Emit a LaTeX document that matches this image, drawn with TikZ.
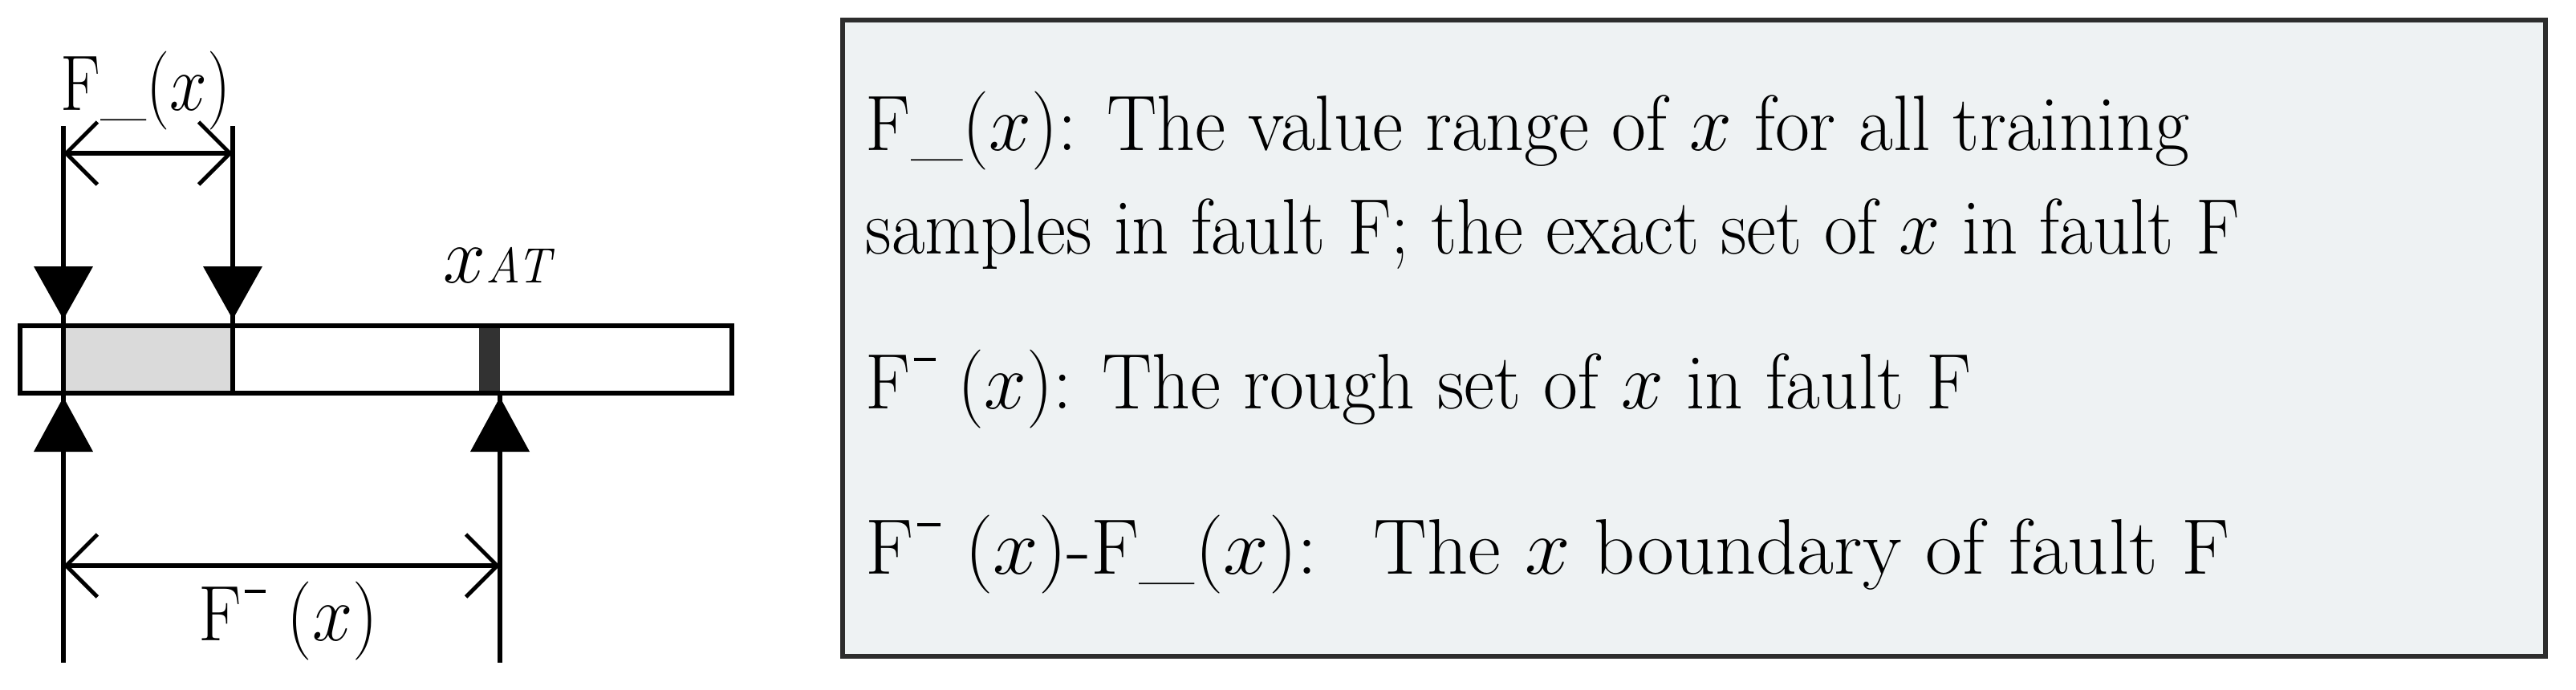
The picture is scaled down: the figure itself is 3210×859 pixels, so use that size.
\documentclass[tikz,border=0pt]{standalone}
\usepackage{fontspec}
\usepackage{graphicx}
\usetikzlibrary{arrows.meta}
\definecolor{boxfill}{RGB}{238,242,243}
\definecolor{shadefill}{RGB}{218,218,218}
\definecolor{darkbar}{RGB}{50,50,50}
\definecolor{boxline}{RGB}{45,45,45}
\newcommand\fitw[2]{\resizebox{#1}{\height}{#2}}
\newcommand\Fup{F\kern0.04em\raisebox{0.6em}{\rule{0.29em}{0.045em}}}
\begin{document}
\begin{tikzpicture}[x=0.25pt,y=-0.25pt,
  lbl/.style={inner sep=0pt, anchor=base west, font=\fontsize{24.5}{29}\selectfont},
  vline/.style={line width=1.7pt, line cap=butt},
  barb/.style={Straight Barb[length=9.75pt,width=19.5pt,line width=1.2pt]},
  dimline/.style={line width=1.6pt, {Straight Barb[length=9.75pt,width=19.5pt,line width=1.2pt]}-{Straight Barb[length=9.75pt,width=19.5pt,line width=1.2pt]}},
  tri/.style={fill=black}]
\useasboundingbox (0,0) rectangle (3210,859);
\fill[white] (0,0) rectangle (3210,859);

% legend box
\draw[line width=1.3pt, draw=boxline, fill=boxfill] (1050,25) rectangle (3172,818);

% bar
\fill[white] (25,406) rectangle (912,490);
\fill[shadefill] (79,406) rectangle (290,490);
\fill[darkbar] (597,406) rectangle (623,490);
\draw[line width=1.6pt] (25,406) rectangle (912,490);

% coordinates
\coordinate (aTop) at (79,157);
\coordinate (aBot) at (79,826);
\coordinate (bTop) at (290,157);
\coordinate (bBar) at (290,490);
\coordinate (cBar) at (623,490);
\coordinate (cBot) at (623,826);
\coordinate (d1a) at (79,191);
\coordinate (d1b) at (290,191);
\coordinate (d2a) at (79,705);
\coordinate (d2b) at (623,705);

% vertical lines
\draw[vline] (aTop) -- (aBot);
\draw[vline] (bTop) -- (bBar);
\draw[vline] (cBar) -- (cBot);

% triangles
\fill[tri] (42,332) -- (116,332) -- (79,398) -- cycle;
\fill[tri] (253,332) -- (327,332) -- (290,398) -- cycle;
\fill[tri] (42,563) -- (116,563) -- (79,495) -- cycle;
\fill[tri] (586,563) -- (660,563) -- (623,495) -- cycle;

% dimension lines
\draw[dimline] (d1a) -- (d1b);
\draw[dimline] (d2a) -- (d2b);

% labels
\node[lbl] (flow) at (75,137) {\fitw{53pt}{F\_($x$)}};
\node[lbl] (fup) at (247,798) {\fitw{55.75pt}{\Fup\ ($x$)}};
\node[lbl] (xat) at (552,352) {\fitw{33.25pt}{$x${\fontsize{15.5}{18}\selectfont\itshape AT}}};

% legend text
\node[lbl] (t1) at (1078,187) {\fitw{412.25pt}{F\_($x$): The value range of $x$ for all training}};
\node[lbl] (t2) at (1078,316) {\fitw{428pt}{samples in fault F; the exact set of $x$ in fault F}};
\node[lbl] (t3) at (1078,509) {\fitw{344.5pt}{\Fup\ ($x$): The rough set of $x$ in fault F}};
\node[lbl] (t4) at (1078,715) {\fitw{425pt}{\Fup\ ($x$)-F\_($x$):\hspace{0.7em}The $x$ boundary of fault F}};
\end{tikzpicture}
\end{document}
